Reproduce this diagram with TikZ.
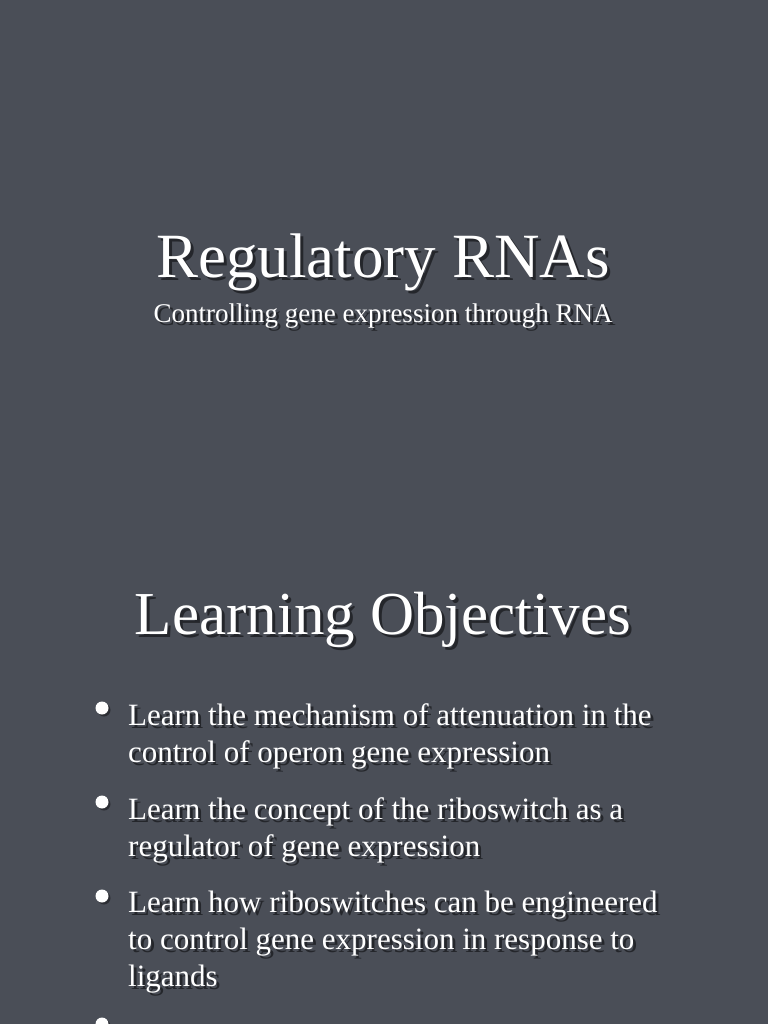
\documentclass[tikz,border=0pt]{standalone}
\usepackage{fontspec}
\setmainfont{Liberation Serif}
\definecolor{bg}{HTML}{4A4E57}
\begin{document}
\begin{tikzpicture}[x=1pt,y=-1pt,
  sh/.style={text=black,opacity=0.5},
  wt/.style={text=white},
  bt/.style={anchor=north west,align=left,font=\fontsize{31}{37}\selectfont,inner sep=0pt},
  dot/.style={circle,fill=white,inner sep=0pt,minimum size=13pt}]
\fill[bg] (0,0) rectangle (768,1024);
\useasboundingbox (0,0) rectangle (768,1024);
\foreach \dx/\st in {3/sh,0/wt}{
\node[\st,font=\fontsize{63}{63}\selectfont] (t\dx) at (383+\dx,262+\dx) {Regulatory RNAs};
\node[\st,font=\fontsize{27}{27}\selectfont] (s\dx) at (383+\dx,316+\dx) {Controlling gene expression through RNA};
\node[\st,font=\fontsize{61}{61}\selectfont] (h\dx) at (383+\dx,620+\dx) {Learning Objectives};
\node[\st,bt] (b1\dx) at (128+\dx,703+\dx) {Learn the mechanism of attenuation in the\\control of operon gene expression};
\node[\st,bt] (b2\dx) at (128+\dx,797+\dx) {Learn the concept of the riboswitch as a\\regulator of gene expression};
\node[\st,bt] (b3\dx) at (128+\dx,891+\dx) {Learn how riboswitches can be engineered\\to control gene expression in response to\\ligands};
}
\foreach \y [count=\i] in {708,802,896,1024}{
\node[dot,fill=black,opacity=0.4] (ds\i) at (104,\y+2) {};
\node[dot] (d\i) at (102,\y) {};
}
\end{tikzpicture}
\end{document}
